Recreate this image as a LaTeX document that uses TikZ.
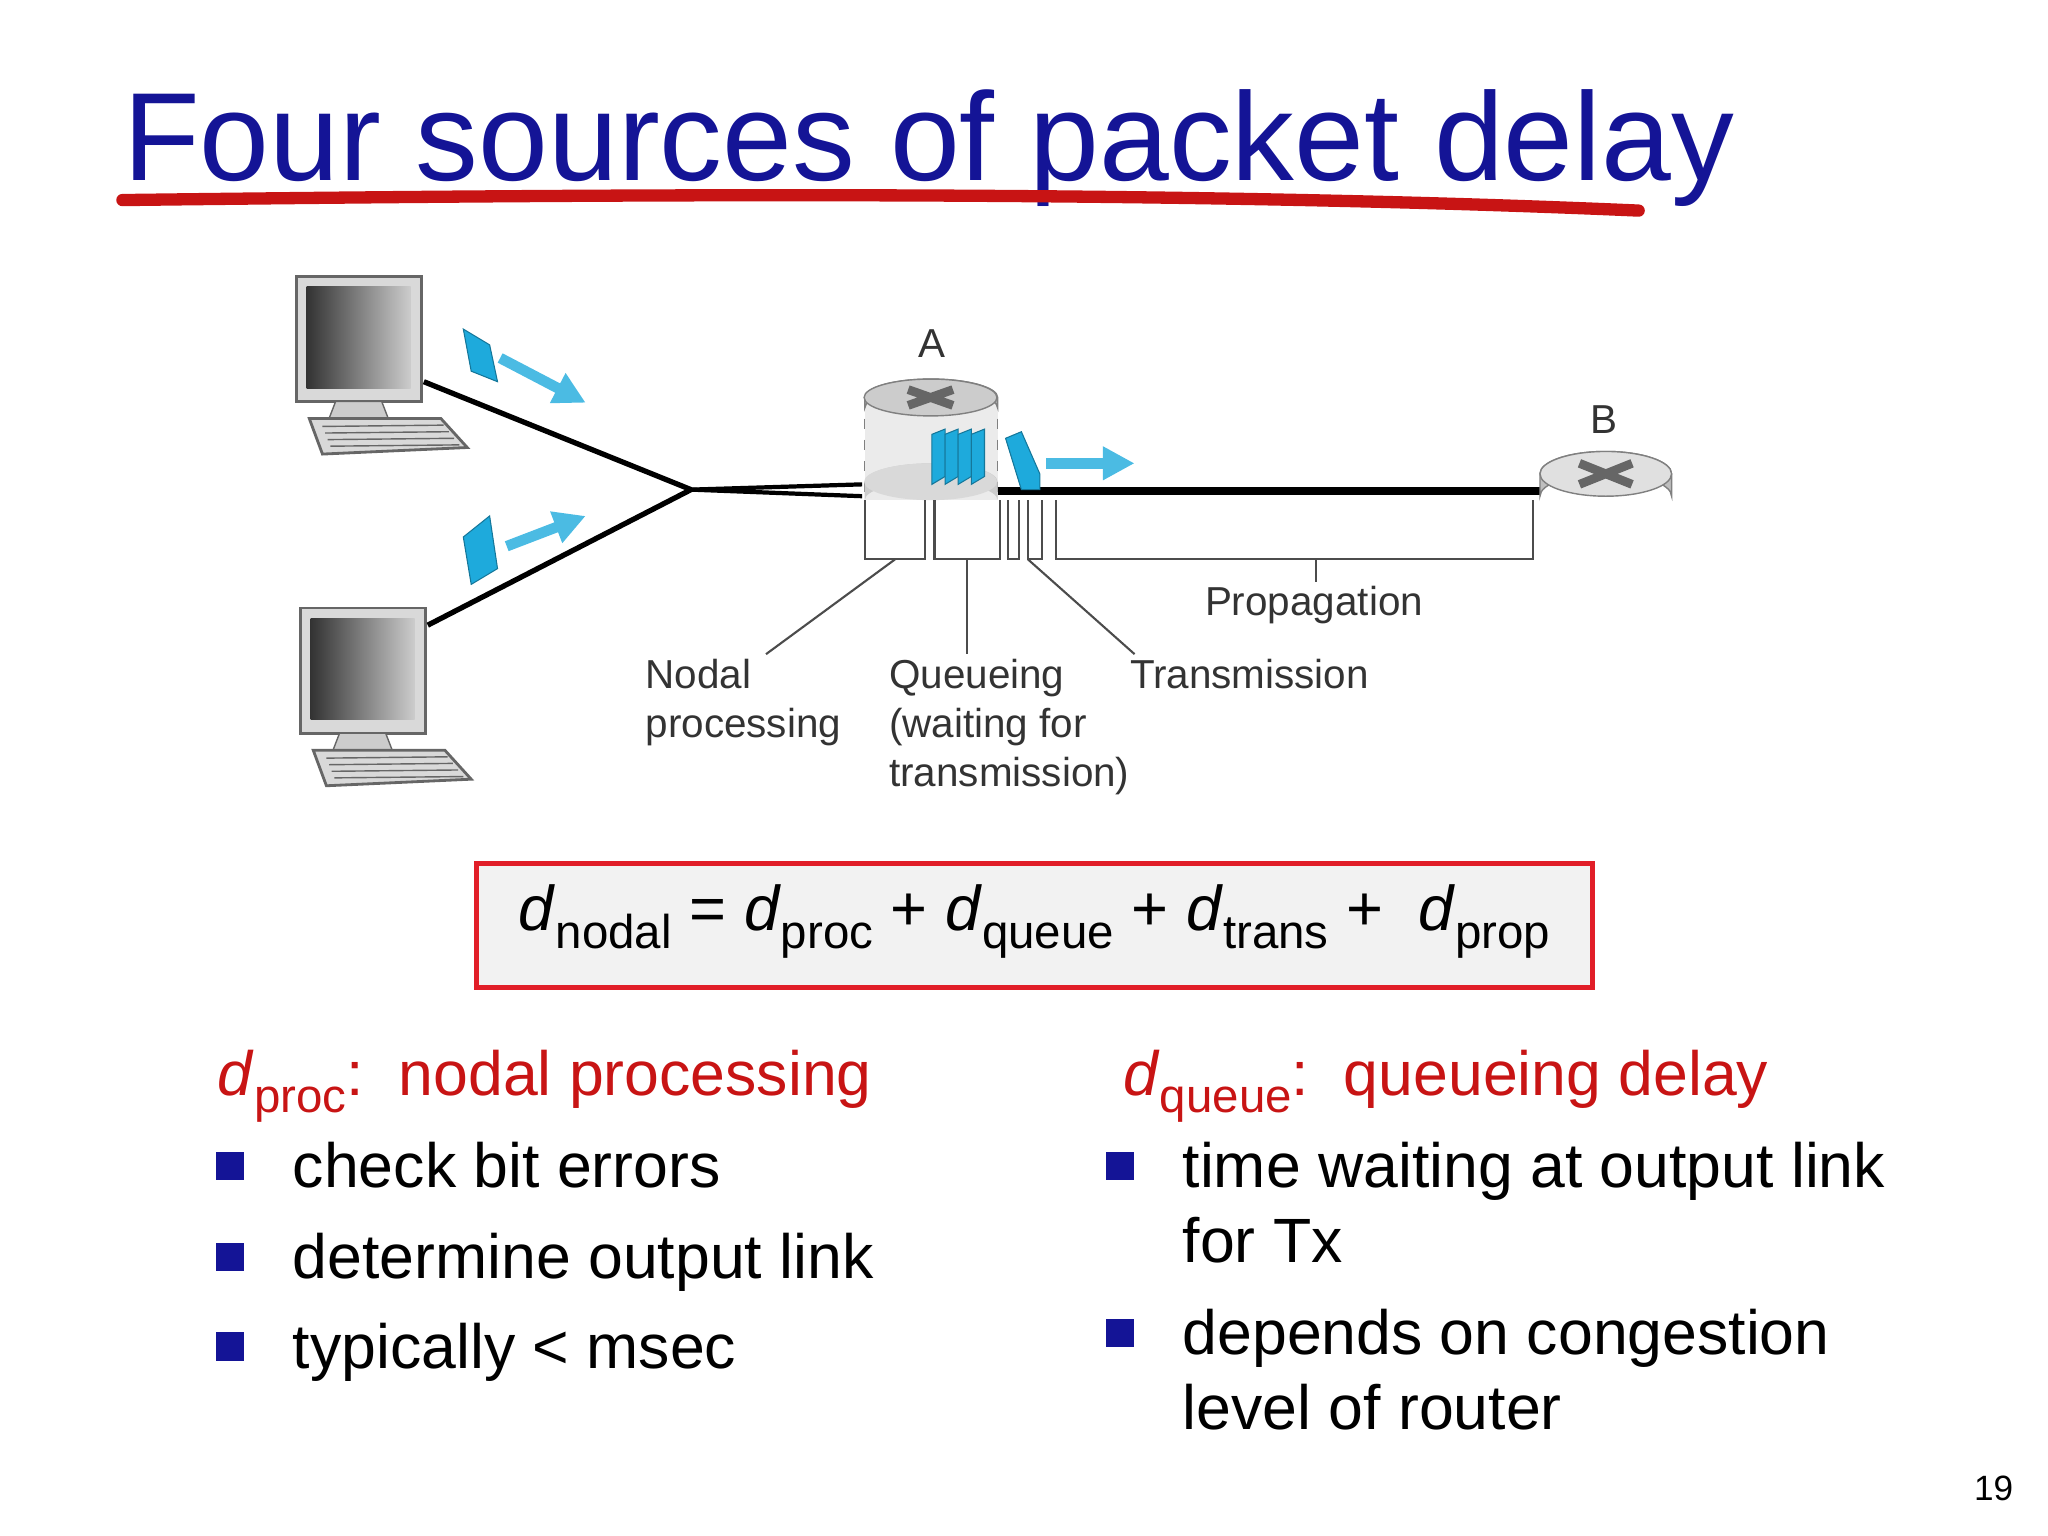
\documentclass[tikz,border=0pt]{standalone}
\usepackage{fontspec}
\setmainfont{Liberation Sans}
\usetikzlibrary{arrows.meta}
\definecolor{ttl}{RGB}{20,20,150}
\definecolor{rd}{RGB}{200,20,20}
\definecolor{pk}{RGB}{30,170,220}
\definecolor{bx}{RGB}{225,30,40}
\newcommand{\sbs}[1]{\raisebox{-5pt}{\fontsize{13.5pt}{16pt}\selectfont #1}}
\tikzset{
  lbl/.style={font=\fontsize{11.5pt}{14pt}\selectfont, color=black!80, align=left, anchor=north west, inner sep=0pt},
  txt/.style={font=\fontsize{17.8pt}{21pt}\selectfont, anchor=base west, inner sep=0pt},
  hd/.style={txt, color=rd},
  bul/.style={fill=ttl, minimum size=8pt, inner sep=0pt},
  pkt/.style={fill=pk, draw=pk!70!black, line width=0.3pt},
  arr/.style={-{Triangle[length=9pt,width=9pt]}, line width=3pt, pk!80},
  thin/.style={line width=0.6pt, black!70}
}
\begin{document}
\begin{tikzpicture}[x=0.1316mm,y=-0.1316mm]
\useasboundingbox (0,0) rectangle (1556,1167);
% title
\node[font=\fontsize{35.7pt}{40pt}\selectfont, color=ttl, anchor=base west, inner sep=0pt] (title) at (93,137) {Four sources of packet delay};
\draw[rd, line width=3.5pt, line cap=round] (93,152) .. controls (500,147) and (900,145) .. (1245,160);
% computers
\foreach \n/\x/\y in {c1/225/210, c2/228/462}{
  \begin{scope}[shift={(\x,\y)}]
    \draw[fill=black!15, draw=black!60, line width=0.8pt] (0,0) rectangle (95,95);
    \shade[left color=black!80, right color=black!20] (8,8) rectangle (87,85);
    \draw[fill=black!20, draw=black!60] (30,95) -- (65,95) -- (70,108) -- (25,108) -- cycle;
    \draw[fill=black!15, draw=black!60, line width=0.8pt] (10,108) -- (110,108) -- (130,130) -- (20,135) -- cycle;
    \foreach \k in {0,1,2,3} \draw[black!60] (20+\k*2,114+\k*5) -- (112+\k*4,113+\k*5);
  \end{scope}
}
\node[inner sep=0pt] (c1) at (290,270) {};
\node[inner sep=0pt] (c2) at (290,520) {};
% links
\coordinate (j) at (525,372);
\draw[line width=1.5pt] (322,290) -- (j);
\draw[line width=1.5pt] (325,475) -- (j);
\draw[line width=1.2pt] (j) -- (655,368);
\draw[line width=1.2pt] (j) -- (655,377);
% router A
\node[lbl] (A) at (697,250) {A};
\fill[black!8] (657,302) rectangle (758,380);
\draw[black!50, dashed] (657,302) -- (657,380) (758,302) -- (758,380);
\draw[fill=black!30, draw=black!50] (657,302) arc (180:360:50.5 and 14) -- (758,310) arc (0:-180:50.5 and 14) -- cycle;
\draw[fill=black!20, draw=black!50] (707,302) ellipse (50.5 and 14);
\draw[black!60, line width=2.5pt] (690,296) -- (724,308) (690,308) -- (724,296);
\fill[black!20] (657,366) arc (180:360:50.5 and 14) -- (758,380) arc (0:-180:50.5 and 14) -- cycle;
\fill[black!15] (707,366) ellipse (50.5 and 14);
% link A-B
\draw[line width=2.2pt] (758,373) -- (1170,373);
% router B
\node[lbl] (B) at (1208,308) {B};
\draw[fill=black!25, draw=black!50] (1170,360) -- (1170,377) arc (180:360:50 and 17) -- (1270,360) arc (0:-180:50 and 17) -- cycle;
\draw[fill=black!12, draw=black!50] (1220,360) ellipse (50 and 17);
\draw[black!60, line width=2.5pt] (1200,352) -- (1240,368) (1200,368) -- (1240,352);
% packets
\foreach \x in {708,718,728,738} \draw[pkt] (\x,330) -- (\x+10,326) -- (\x+10,362) -- (\x,368) -- cycle;
\draw[pkt] (764,333) -- (776,328) -- (790,360) -- (790,372) -- (776,372) -- cycle;
\draw[pkt] (352,250) -- (372,262) -- (378,290) -- (358,282) -- cycle;
\draw[pkt] (352,408) -- (372,392) -- (378,432) -- (358,444) -- cycle;
\draw[arr] (380,272) -- (445,306);
\draw[arr] (385,415) -- (445,392);
\draw[arr] (795,352) -- (862,352);
% brackets
\draw[thin] (657,380) -- (657,425) -- (703,425) -- (703,380);
\draw[thin] (710,380) -- (710,425) -- (760,425) -- (760,380);
\draw[thin] (766,380) -- (766,425) -- (774,425) -- (774,380);
\draw[thin] (781,380) -- (781,425) -- (792,425) -- (792,380);
\draw[thin] (802,380) -- (802,425) -- (1165,425) -- (1165,380);
% labels
\node[lbl] (nod) at (490,500) {Nodal\\processing};
\node[lbl] (que) at (675,500) {Queueing\\(waiting for\\transmission)};
\node[lbl] (tra) at (858,500) {Transmission};
\node[lbl] (pro) at (915,445) {Propagation};
\draw[thin] (680,425) -- (582,497);
\draw[thin] (735,425) -- (735,497);
\draw[thin] (781,425) -- (862,497);
\draw[thin] (1000,425) -- (1000,442);
% formula box
\draw[draw=bx, line width=1.5pt, fill=black!5] (362,656) rectangle (1210,750);
\node[font=\fontsize{18pt}{22pt}\selectfont, inner sep=0pt] (eq) at (786,700) {\textit{d}\sbs{nodal} = \textit{d}\sbs{proc} + \textit{d}\sbs{queue} + \textit{d}\sbs{trans} + \ \textit{d}\sbs{prop}};
% left column
\node[hd] (h1) at (165,832) {\textit{d}\sbs{proc}:\ \ nodal processing};
\node[bul] (b1) at (175,886) {}; \node[txt] (t1) at (222,902) {check bit errors};
\node[bul] (b2) at (175,955) {}; \node[txt] (t2) at (222,971) {determine output link};
\node[bul] (b3) at (175,1023) {}; \node[txt] (t3) at (222,1040) {typically < msec};
% right column
\node[hd] (h2) at (853,832) {\textit{d}\sbs{queue}:\ \ queueing delay};
\node[bul] (b4) at (851,886) {}; \node[txt] (t4) at (898,902) {time waiting at output link};
\node[txt] (t5) at (898,959) {for Tx};
\node[bul] (b5) at (851,1013) {}; \node[txt] (t6) at (898,1029) {depends on congestion};
\node[txt] (t7) at (898,1086) {level of router};
\node[font=\fontsize{10pt}{12pt}\selectfont, anchor=base east, inner sep=0pt] (pg) at (1530,1140) {19};
\end{tikzpicture}
\end{document}
